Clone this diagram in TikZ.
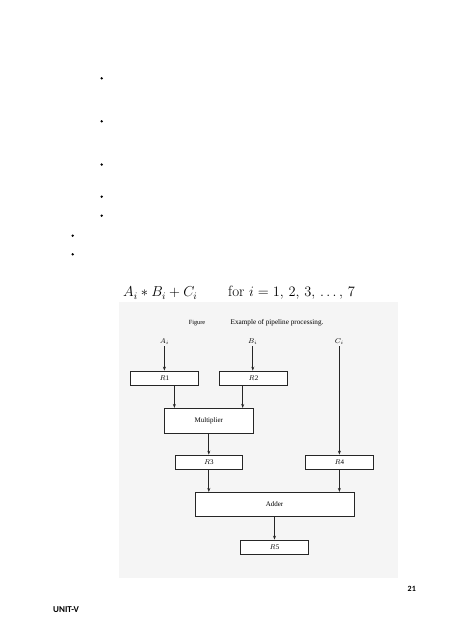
\documentclass[tikz,border=0pt]{standalone}
\usepackage{fontspec}
\usepackage{amsmath}
\usepackage{amssymb}
\usetikzlibrary{arrows.meta}
\newfontfamily\figfont{Liberation Serif}
\newfontfamily\footfont{Carlito}

\begin{document}
\begin{tikzpicture}[x=1pt,y=-1pt,
  reg/.style={draw=black!85,line width=0.7pt,fill=white,minimum height=14pt,inner sep=0pt,font=\figfont\fontsize{7}{8}\selectfont},
  lab/.style={inner sep=1.5pt,font=\fontsize{7}{8}\selectfont},
  wire/.style={draw=black!85,line width=0.7pt,-{Stealth[length=4pt,width=3pt]}}]
\useasboundingbox (0,0) rectangle (474,632);
% scanned area
\fill[black!4] (119,302) rectangle (398,578);
% bullets
\fill (101.7,78.3) circle[radius=1.3pt];
\fill (101.7,121.3) circle[radius=1.3pt];
\fill (101.7,164.5) circle[radius=1.3pt];
\fill (101.7,196.7) circle[radius=1.3pt];
\fill (101.7,215.7) circle[radius=1.3pt];
\fill (72.7,235.7) circle[radius=1.3pt];
\fill (72.7,254.3) circle[radius=1.3pt];
% formula
\node[anchor=west,inner sep=0pt,font=\fontsize{14}{16}\selectfont] (expr) at (123,293) {$A_i * B_i + C_i$};
\node[anchor=west,inner sep=0pt,font=\fontsize{15}{17}\selectfont] (range) at (228,293) {for $i = 1,\, 2,\, 3,\, .\,.\,.\,,\, 7$};
% caption
\node[inner sep=0pt,font=\figfont\fontsize{6.3}{7}\selectfont] (fig) at (197,323) {Figure};
\node[inner sep=0pt,font=\figfont\fontsize{7.2}{8}\selectfont] (cap) at (277,323) {Example of pipeline processing.};
% inputs
\node[lab] (ina) at (164.4,341.5) {$A_i$};
\node[lab] (inb) at (252.8,341.5) {$B_i$};
\node[lab] (inc) at (339.4,341.5) {$C_i$};
% registers
\node[reg,minimum width=68pt] (r1) at (164.4,378) {$R$1};
\node[reg,minimum width=68pt] (r2) at (253.5,378) {$R$2};
\node[reg,minimum width=89pt,minimum height=25pt] (mult) at (208.8,420.8) {Multiplier};
\node[reg,minimum width=67.5pt] (r3) at (208.8,462) {$R$3};
\node[reg,minimum width=68pt] (r4) at (339.4,462) {$R$4};
\node[reg,minimum width=159pt,minimum height=24pt] (adder) at (274.5,504.3) {Adder};
\node[reg,minimum width=67.5pt] (r5) at (274.5,547) {$R$5};
% ends of the offset wires
\coordinate (m1) at (174.4,385);
\coordinate (m2) at (242.7,385);
% connectors
\draw[wire] (ina) -- (r1);
\draw[wire] (inb) -- (inb |- r2.north);
\draw[wire] (m1) -- (m1 |- mult.north);
\draw[wire] (m2) -- (m2 |- mult.north);
\draw[wire] (mult) -- (r3);
\draw[wire] (inc) -- (r4);
\draw[wire] (r3) -- (r3 |- adder.north);
\draw[wire] (r4) -- (r4 |- adder.north);
\draw[wire] (adder) -- (r5);
% footer
\node[anchor=east,inner sep=0pt,font=\footfont\bfseries\fontsize{8}{9}\selectfont] (page) at (416,589) {21};
\node[anchor=west,inner sep=0pt,font=\footfont\bfseries\fontsize{9}{10}\selectfont] (unit) at (53,610) {UNIT-V};
\end{tikzpicture}
\end{document}
